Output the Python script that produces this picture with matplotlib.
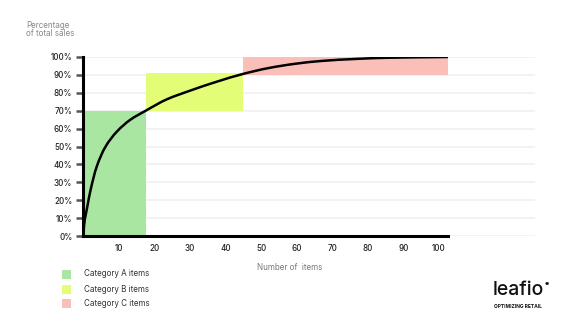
import matplotlib
matplotlib.use("Agg")
import matplotlib.pyplot as plt
from matplotlib.patches import Rectangle, PathPatch
from matplotlib.path import Path
import numpy as np

# Data
curve_x = [0, 0.15, 1.1, 2.05, 3.7, 6.1, 9.4, 13.1, 17.7, 23.4, 30.0, 37.5, 45.0, 52.0, 59.5, 67.0, 76.4, 86.0, 102.5]
curve_y = [0, 5.0, 16.4, 26.0, 38.5, 49.5, 58.3, 64.8, 70.2, 76.3, 81.2, 86.2, 90.6, 93.8, 96.2, 97.8, 98.9, 99.6, 100.0]
categories = ["Category A items", "Category B items", "Category C items"]
cat_x0 = [0, 17.6, 45.0]
cat_x1 = [17.6, 45.0, 102.5]
cat_y0 = [0, 70, 90]
cat_y1 = [70, 91, 100]
cat_colors = ["#a8e6a1", "#e3fd77", "#fbbfba"]
x_ticks = [10, 20, 30, 40, 50, 60, 70, 80, 90, 100]
y_ticks = [0, 10, 20, 30, 40, 50, 60, 70, 80, 90, 100]

plt.rcParams['font.family'] = ['Inter', 'DejaVu Sans']


def monotone_path(x, y):
    """Monotone cubic (like d3 curveMonotoneX) as Bezier path through the points."""
    x = np.asarray(x, float); y = np.asarray(y, float)
    n = len(x)
    h = np.diff(x); d = np.diff(y) / h
    m = np.zeros(n)
    m[0] = d[0]; m[-1] = d[-1]
    for i in range(1, n - 1):
        if d[i - 1] * d[i] <= 0:
            m[i] = 0
        else:
            w1 = 2 * h[i] + h[i - 1]; w2 = h[i] + 2 * h[i - 1]
            m[i] = (w1 + w2) / (w1 / d[i - 1] + w2 / d[i])
    verts = [(x[0], y[0])]; codes = [Path.MOVETO]
    for i in range(n - 1):
        dx = h[i] / 3
        verts += [(x[i] + dx, y[i] + m[i] * dx), (x[i + 1] - dx, y[i + 1] - m[i + 1] * dx), (x[i + 1], y[i + 1])]
        codes += [Path.CURVE4] * 3
    return Path(verts, codes)


fig = plt.figure(figsize=(5.78, 3.27), dpi=100)
ax = fig.add_axes([83.4/578, 1-236/327, (535-83.4)/578, (236-57)/327])
ax.set_xlim(0, 127)
ax.set_ylim(0, 100)

for x0, x1, y0, y1, c in zip(cat_x0, cat_x1, cat_y0, cat_y1, cat_colors):
    ax.add_patch(Rectangle((x0, y0), x1 - x0, y1 - y0, facecolor=c, edgecolor='none', zorder=1))

for y in y_ticks:
    ax.axhline(y, color='#f0f0f0', lw=1.2, zorder=0.5)

ax.add_patch(PathPatch(monotone_path(curve_x, curve_y), facecolor='none', edgecolor='black',
                       lw=1.8, zorder=3, capstyle='butt'))

for s in ['top', 'right']:
    ax.spines[s].set_visible(False)
ax.spines['left'].set_linewidth(2.2)
ax.spines['bottom'].set_linewidth(2.2)
ax.spines['bottom'].set_bounds(0, 102.5)
ax.spines['left'].set_zorder(4)
ax.spines['bottom'].set_zorder(4)

ax.set_yticks(y_ticks)
ax.set_yticklabels([f"{v}%" for v in y_ticks], fontsize=5.8, color='#222222', fontweight='medium')
ax.tick_params(axis='y', length=5, width=1.8, color='#555555', pad=3)
ax.set_xticks(x_ticks)
ax.set_xticklabels([str(v) for v in x_ticks], fontsize=5.8, color='#222222', fontweight='medium')
ax.tick_params(axis='x', length=0, pad=6)

fig.text(26/578, 1-25/327, "Percentage", fontsize=5.8, color='#888888', va='center', ha='left')
fig.text(26/578, 1-34/327, "of total sales", fontsize=5.8, color='#888888', va='center', ha='left')
fig.text(290/578, 1-267/327, "Number of  items", fontsize=5.8, color='#777777', va='center', ha='center')

leg_y = [274, 289, 303]
for name, c, yy in zip(categories, cat_colors, leg_y):
    fig.patches.append(Rectangle((62/578, 1-(yy+4.5)/327), 9/578, 9/327, facecolor=c,
                                 edgecolor='none', transform=fig.transFigure, figure=fig))
    fig.text(84/578, 1-yy/327, name, fontsize=5.8, color='#333333', va='center', ha='left')

fig.text(518/578, 1-290/327, "leafio", fontsize=14, color='#111111', va='center', ha='center', fontweight='medium')
fig.text(547/578, 1-283/327, "•", fontsize=8, color='#111111', va='center', ha='center')
fig.text(518/578, 1-306/327, "OPTIMIZING RETAIL", fontsize=3.5, color='#111111', va='center', ha='center', fontweight='bold')

fig.savefig("out.png", dpi=100)
